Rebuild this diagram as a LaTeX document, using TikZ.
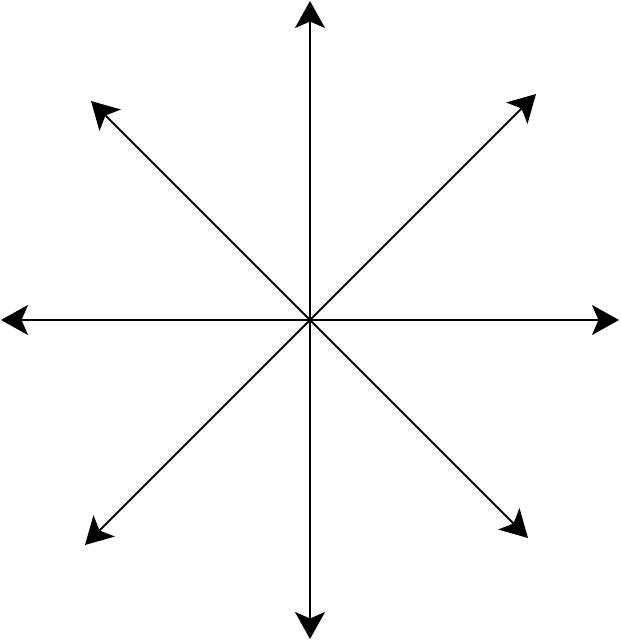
\documentclass[tikz,border=0pt]{standalone}
\usepackage{tikz}
\usetikzlibrary{arrows.meta,positioning}
\tikzstyle{ray} = [line width=1.2pt, -{Stealth[length=0.54cm, width=0.6cm, inset=0.13cm]}, color=black]
\begin{document}
\begin{tikzpicture}[x=0.02cm, y=-0.02cm]
\useasboundingbox (0,0) rectangle (620,640);

% Centre
\coordinate (c) at (310,320);

% Ends
\coordinate (n) at (310,1);
\coordinate (s) at (310,639);
\coordinate (w) at (1,320);
\coordinate (e) at (619,320);
\coordinate (nw) at (91,101);
\coordinate (ne) at (536,94);
\coordinate (sw) at (85,545);
\coordinate (se) at (528,538);

% Arrows
\draw[ray] (c) -- (n);
\draw[ray] (c) -- (s);
\draw[ray] (c) -- (w);
\draw[ray] (c) -- (e);
\draw[ray] (c) -- (nw);
\draw[ray] (c) -- (ne);
\draw[ray] (c) -- (sw);
\draw[ray] (c) -- (se);
\end{tikzpicture}
\end{document}
